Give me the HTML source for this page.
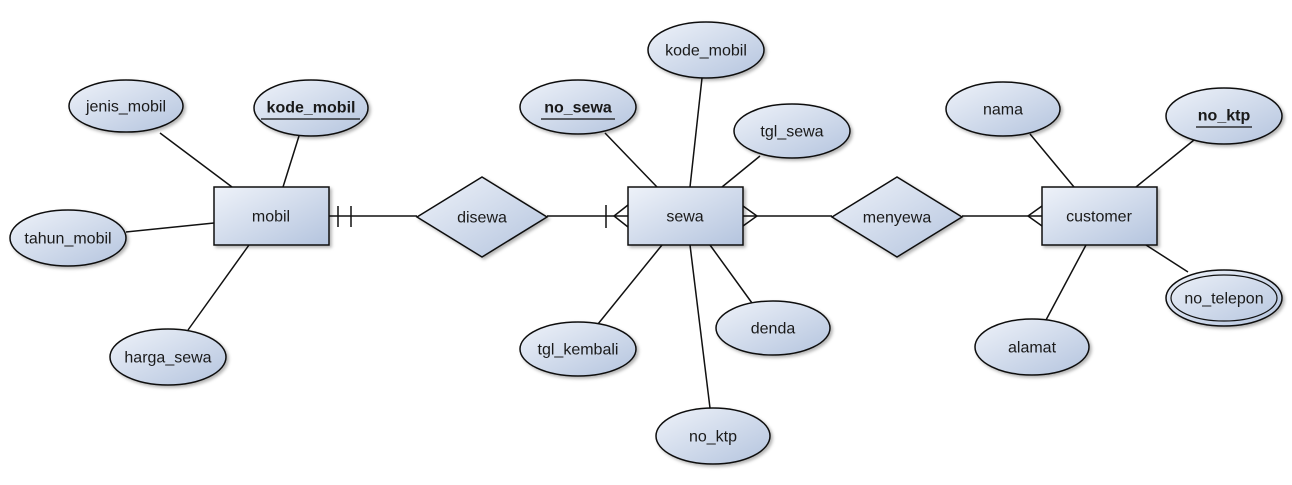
<!DOCTYPE html>
<html><head><meta charset="utf-8"><style>
html,body{margin:0;padding:0;background:#fff;}
svg{display:block;}
text{font-family:"Liberation Sans",Arial,sans-serif;font-size:16px;fill:#1a1a1a;text-anchor:middle;dominant-baseline:central;}
.b{font-weight:bold;}
</style></head><body>
<svg width="1292" height="485" viewBox="0 0 1292 485" xmlns="http://www.w3.org/2000/svg">
<defs>
<linearGradient id="g" x1="0" y1="0" x2="1" y2="1">
<stop offset="0" stop-color="#eef2f9"/><stop offset="1" stop-color="#b4c4de"/>
</linearGradient>
<filter id="s" x="-20%" y="-20%" width="150%" height="150%">
<feDropShadow dx="2" dy="2" stdDeviation="1.5" flood-color="#000" flood-opacity="0.3"/>
</filter>
</defs>
<g stroke="#111" stroke-width="1.5" fill="none">
<line x1="160" y1="133" x2="232" y2="187"/>
<line x1="299" y1="136" x2="283" y2="187"/>
<line x1="126" y1="232" x2="214" y2="223"/>
<line x1="188" y1="330" x2="249" y2="245"/>
<line x1="605" y1="133" x2="657" y2="187"/>
<line x1="702" y1="78" x2="690" y2="187"/>
<line x1="760" y1="156" x2="722" y2="187"/>
<line x1="598" y1="324" x2="662" y2="245"/>
<line x1="752" y1="303" x2="710" y2="245"/>
<line x1="710" y1="408" x2="690" y2="245"/>
<line x1="1030" y1="134" x2="1074" y2="187"/>
<line x1="1194" y1="140" x2="1136" y2="187"/>
<line x1="1188" y1="272" x2="1146" y2="245"/>
<line x1="1046" y1="320" x2="1086" y2="245"/>
<line x1="329" y1="216" x2="417" y2="216"/>
<line x1="338" y1="206" x2="338" y2="227"/>
<line x1="351" y1="206" x2="351" y2="227"/>
<line x1="547" y1="216" x2="628" y2="216"/>
<line x1="606" y1="205" x2="606" y2="228"/>
<polyline points="628,205 614,216 628,227"/>
<line x1="743" y1="216" x2="832" y2="216"/>
<polyline points="743,206 757,216 743,226"/>
<line x1="962" y1="216" x2="1042" y2="216"/>
<polyline points="1042,206 1028,216 1042,226"/>
</g>
<g fill="url(#g)" stroke="#111" stroke-width="1.5" filter="url(#s)">
<rect x="214" y="187" width="115" height="58"/>
<rect x="628" y="187" width="115" height="58"/>
<rect x="1042" y="187" width="115" height="58"/>
<polygon points="417,217 482,177 547,217 482,257"/>
<polygon points="832,217 897,177 962,217 897,257"/>
<ellipse cx="126" cy="106" rx="57" ry="26"/>
<ellipse cx="311" cy="108" rx="57" ry="28"/>
<ellipse cx="68" cy="238" rx="58" ry="28"/>
<ellipse cx="168" cy="357" rx="58" ry="28"/>
<ellipse cx="578" cy="107" rx="58" ry="27"/>
<ellipse cx="706" cy="50" rx="58" ry="28"/>
<ellipse cx="792" cy="131" rx="58" ry="27"/>
<ellipse cx="578" cy="349" rx="58" ry="27"/>
<ellipse cx="773" cy="328" rx="57" ry="27"/>
<ellipse cx="713" cy="436" rx="57" ry="28"/>
<ellipse cx="1003" cy="109" rx="57" ry="27"/>
<ellipse cx="1224" cy="116" rx="58" ry="28"/>
<ellipse cx="1224" cy="298" rx="58" ry="28"/>
<ellipse cx="1032" cy="347" rx="57" ry="28"/>
</g>
<ellipse cx="1224" cy="298" rx="53" ry="23" fill="none" stroke="#111" stroke-width="1.2"/>
<text x="271" y="217">mobil</text>
<text x="685" y="217">sewa</text>
<text x="1099" y="217">customer</text>
<text x="482" y="218">disewa</text>
<text x="897" y="218">menyewa</text>
<text x="126" y="107">jenis_mobil</text>
<text x="311" y="108" class="b">kode_mobil</text>
<line x1="261" y1="119" x2="360" y2="119" stroke="#111" stroke-width="1.3"/>
<text x="68" y="239">tahun_mobil</text>
<text x="168" y="358">harga_sewa</text>
<text x="578" y="108" class="b">no_sewa</text>
<line x1="541" y1="119" x2="615" y2="119" stroke="#111" stroke-width="1.3"/>
<text x="706" y="51">kode_mobil</text>
<text x="792" y="132">tgl_sewa</text>
<text x="578" y="350">tgl_kembali</text>
<text x="773" y="329">denda</text>
<text x="713" y="437">no_ktp</text>
<text x="1003" y="110">nama</text>
<text x="1224" y="116" class="b">no_ktp</text>
<line x1="1196" y1="127" x2="1252" y2="127" stroke="#111" stroke-width="1.3"/>
<text x="1224" y="299">no_telepon</text>
<text x="1032" y="348">alamat</text>
</svg>
</body></html>
